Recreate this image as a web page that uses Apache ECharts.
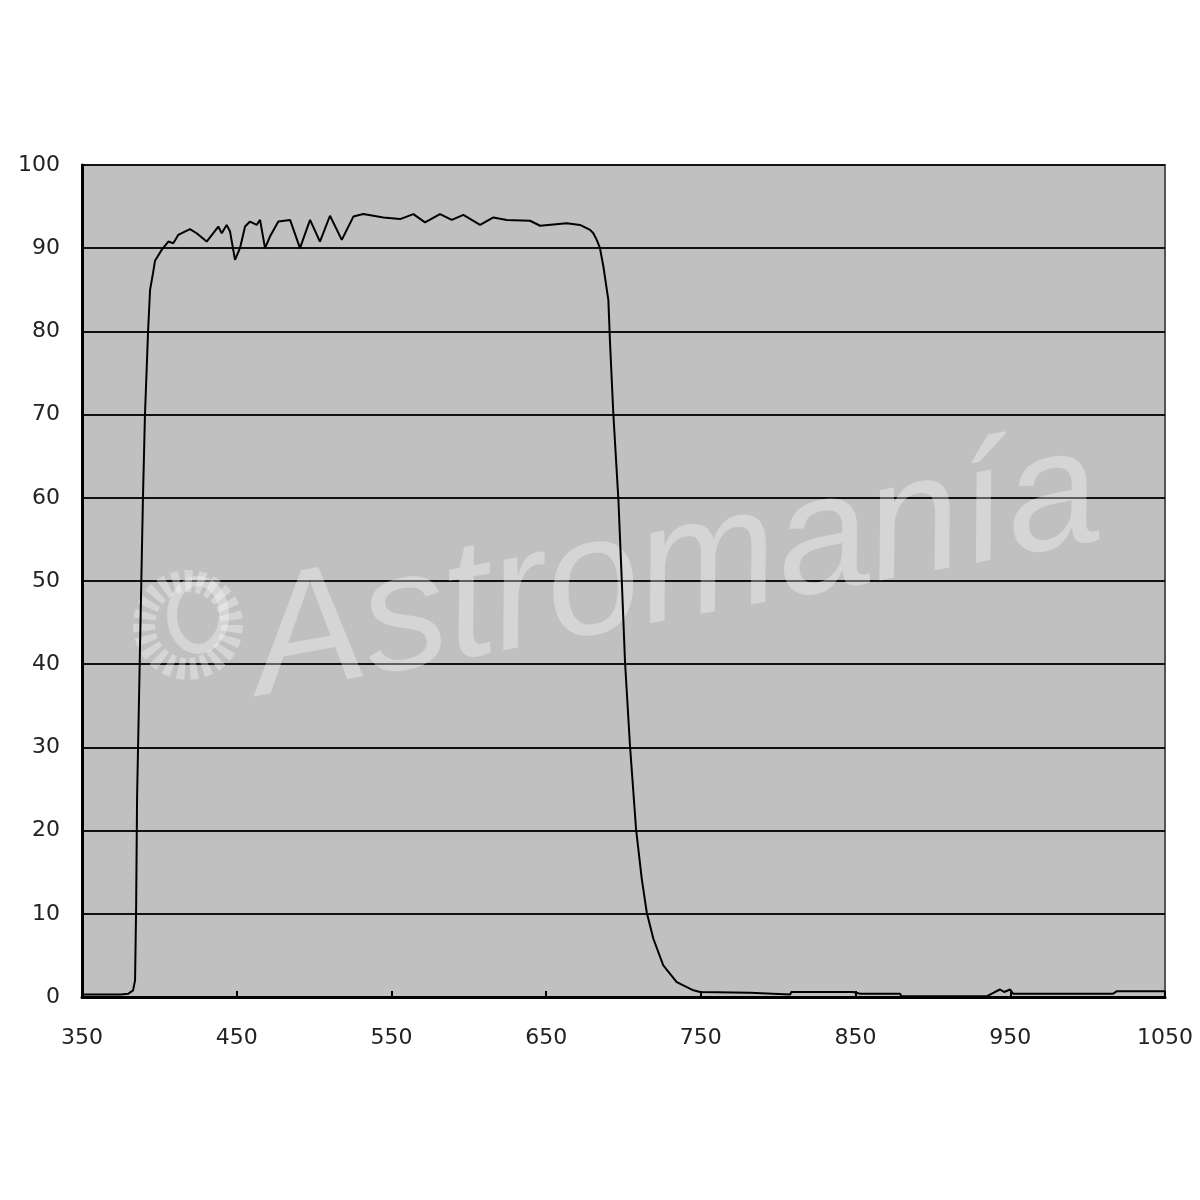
<!DOCTYPE html>
<html><head><meta charset="utf-8">
<script src="https://cdn.jsdelivr.net/npm/echarts@6/dist/echarts.min.js"></script>
<style>html,body{margin:0;padding:0;background:#fff}#c{width:1200px;height:1200px}</style>
</head><body><div id="c"></div>
<script>
// Wavelength (nm) and transmission (%)
const wavelengths = [350,365,375,380,383,384.3,385,385.6,387.5,389.4,390.7,392.7,394,395.9,397.2,401.5,405.8,409,412.2,419.8,424.1,430.6,438.1,440.3,443.5,445.7,448.9,452.1,455.4,458.6,462.9,465.1,468.3,471.5,476.9,484.5,490.9,497.4,503.8,510.3,517.9,525.4,531.8,544.8,555.6,564.2,571.7,581.4,589,596.5,607.3,615.9,624.5,639.6,646.1,663.3,671.9,678.4,680.5,682.7,684.8,687,690.2,691.3,693.4,696.7,698.9,701,704.2,708.1,711.8,715,719.3,725.7,734.4,745.2,749.5,781.8,782.5,807.7,808.5,848.4,852.9,878.8,879.5,935,940,943.4,946,949.9,951.8,1016.5,1019,1048.8,1050];
const transmission = [0.3,0.3,0.3,0.4,0.8,2,11,24,42,60,70,80,85,87,88.5,89.8,90.8,90.6,91.6,92.3,91.8,90.8,92.6,91.8,92.8,92,88.6,90,92.6,93.2,92.8,93.4,90,91.4,93.2,93.4,90,93.4,90.8,93.9,91,93.8,94.1,93.7,93.5,94.1,93.1,94.1,93.4,94,92.8,93.7,93.4,93.3,92.7,93,92.8,92.2,91.8,91,90,87.8,83.8,78.6,70.2,59.8,50,40.2,30.2,20.2,14.2,10.2,7,3.8,1.8,0.8,0.6,0.5,0.3,0.3,0.6,0.6,0.4,0.4,0.1,0.1,0.6,0.9,0.6,0.9,0.4,0.4,0.7,0.7,0.7];
const xTicks = [350,450,550,650,750,850,950,1050];
const yTicks = [0,10,20,30,40,50,60,70,80,90,100];
const watermark = "Astromanía";

const chart = echarts.init(document.getElementById('c'), null, {renderer:'canvas'});
chart.setOption({
  backgroundColor:'#ffffff',
  animation:false,
  grid:{left:82,right:35,top:165,bottom:203,show:true,backgroundColor:'#c0c0c0',borderColor:'#555',borderWidth:2},
  graphic:[{
    type:'text',
    left:238, top:410,
    rotation: 10.5*Math.PI/180,
    z:1,
    style:{text:watermark,fontFamily:'Liberation Sans',fontStyle:'italic',fontSize:168,fill:'rgba(255,255,255,0.33)'}
  },{
    type:'circle', z:1,
    shape:{cx:188,cy:625,r:44},
    style:{fill:'none',stroke:'rgba(255,255,255,0.33)',lineWidth:22,lineDash:[7,5]}
  },{
    type:'ellipse', z:1,
    shape:{cx:198,cy:615,rx:26,ry:34},
    style:{fill:'none',stroke:'rgba(255,255,255,0.33)',lineWidth:10}
  }],
  xAxis:{
    type:'value',min:350,max:1050,interval:100,
    axisLine:{show:true,onZero:false,lineStyle:{color:'#000',width:3}},
    axisTick:{show:true,inside:true,length:6,lineStyle:{color:'#000',width:2}},
    axisLabel:{show:true,margin:30,color:'#222',fontFamily:'DejaVu Sans',fontSize:22,
      formatter:v=>xTicks.includes(v)?String(v):''},
    splitLine:{show:false}
  },
  yAxis:{
    type:'value',min:0,max:100,interval:10,
    axisLine:{show:true,lineStyle:{color:'#000',width:3}},
    axisTick:{show:false},
    axisLabel:{show:true,margin:22,color:'#222',fontFamily:'DejaVu Sans',fontSize:22,
      formatter:v=>yTicks.includes(v)?String(v):''},
    splitLine:{show:true,lineStyle:{color:'#111',width:2}}
  },
  series:[{
    type:'line',
    data:wavelengths.map((w,i)=>[w,transmission[i]]),
    showSymbol:false,symbol:'none',smooth:false,
    lineStyle:{color:'#000',width:2},
    z:5
  }]
});
</script></body></html>
